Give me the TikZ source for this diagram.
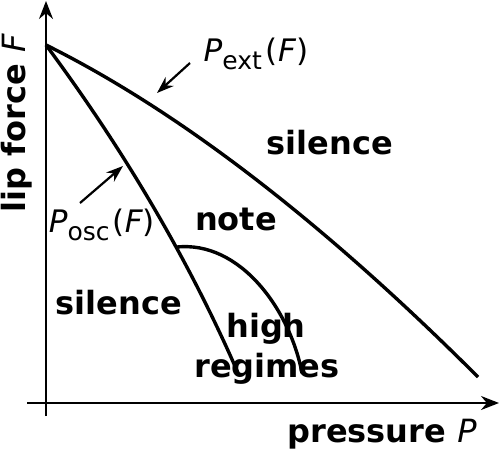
\documentclass[tikz,border=0pt]{standalone}
\usepackage{fontspec}
\setmainfont{DejaVu Sans}
\usetikzlibrary{arrows.meta}
\begin{document}
\begin{tikzpicture}[x=1pt,y=-1pt,
  axis/.style={line width=2pt,-{Stealth[length=18pt,width=14pt]}},
  curve/.style={line width=3.4pt},
  pointer/.style={line width=2.2pt,-{Stealth[length=17pt,width=12pt]}},
  lab/.style={font=\fontsize{32}{36}\selectfont\bfseries,inner sep=0pt,anchor=base},
  mlab/.style={font=\fontsize{31}{36}\selectfont,inner sep=0pt,anchor=base}]
\useasboundingbox (0,0) rectangle (500,455);
% axes
\coordinate (xs) at (27,403);
\coordinate (xe) at (499,403);
\coordinate (ys) at (46,416);
\coordinate (ye) at (46,1);
\draw[axis] (xs) -- (xe);
\draw[axis] (ys) -- (ye);
% curves
\coordinate (apex) at (46,45);
\coordinate (extend) at (478,377);
\coordinate (oscend) at (238,373);
\coordinate (hiend) at (302,373);
\draw[curve] (apex) .. controls (178.7,111) and (322.7,221.7) .. (extend);
\draw[curve] (apex) .. controls (125.7,152.6) and (189.7,261.9) .. (oscend) coordinate[pos=0.62] (branch);
\draw[curve] (branch) .. controls (240,240) and (290,310) .. (hiend);
% labels
\node[mlab] (pext) at (256,61) {\textit{P}\raisebox{-8pt}{\fontsize{25}{25}\selectfont ext}\kern4pt(\textit{F})};
\node[mlab] (posc) at (102,232) {\textit{P}\raisebox{-8pt}{\fontsize{25}{25}\selectfont osc}\kern3pt(\textit{F})};
\coordinate (pextfrom) at (190,63);
\coordinate (pextto) at (157,93);
\coordinate (poscfrom) at (80,203);
\coordinate (poscto) at (123,166);
\draw[pointer] (pextfrom) -- (pextto);
\draw[pointer] (poscfrom) -- (poscto);
\node[lab] (sil1) at (330,154) {silence};
\node[lab] (note) at (236,230) {note};
\node[lab] (sil2) at (119,314) {silence};
\node[lab] (high) at (266,337) {high};
\node[lab] (reg) at (267,377) {regimes};
\node[lab] (xlab) at (382,442) {pressure \mdseries\textit{P}};
\node[lab,rotate=90] (ylab) at (25,123) {lip force \mdseries\textit{F}};
\end{tikzpicture}
\end{document}
